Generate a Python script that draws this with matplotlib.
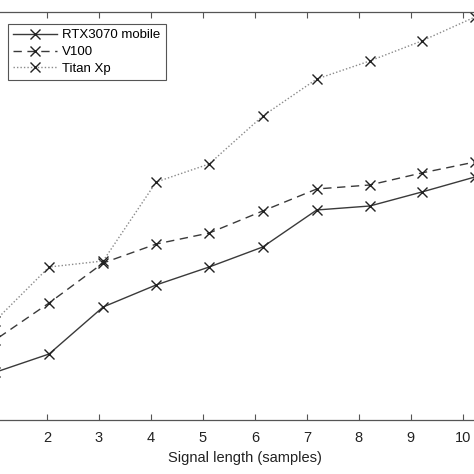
import matplotlib
matplotlib.use("Agg")
import matplotlib.pyplot as plt

plt.rcParams['font.family'] = ['Liberation Sans', 'DejaVu Sans']

# Data
x_vals = [1.0, 2.04, 3.08, 4.1, 5.12, 6.15, 7.19, 8.21, 9.21, 10.23]
rtx3070 = [4.67, 6.47, 11.08, 13.24, 15.0, 16.96, 20.59, 20.98, 22.35, 23.82]
v100 = [7.84, 11.47, 15.39, 17.25, 18.33, 20.49, 22.65, 23.04, 24.22, 25.29]
titan_xp = [9.71, 15.0, 15.59, 23.33, 25.1, 29.8, 33.43, 35.2, 37.16, 39.5]
series_names = ["RTX3070 mobile", "V100", "Titan Xp"]
x_ticks = [2, 3, 4, 5, 6, 7, 8, 9, 10]
x_label = "Signal length (samples)"

W = H = 474
fig = plt.figure(figsize=(4.74, 4.74), dpi=100)
left_px, right_px = -5, 494
top_px, bottom_px = 12, 420
ax = fig.add_axes([left_px / W, (H - bottom_px) / H,
                   (right_px - left_px) / W, (bottom_px - top_px) / H])

lc = "#3a3a3a"
ax.plot(x_vals, rtx3070, color=lc, lw=1.0, ls='-', marker='x', ms=7,
        mew=1.0, mec='#222222', label=series_names[0])
ax.plot(x_vals, v100, color=lc, lw=1.0, ls=(0, (6, 4)), marker='x', ms=7,
        mew=1.0, mec='#222222', label=series_names[1])
ax.plot(x_vals, titan_xp, color='#8a8a8a', lw=1.0, ls=(0, (1, 1.5)), marker='x', ms=7,
        mew=1.0, mec='#222222', label=series_names[2])

ax.set_xlim(1, 10.6)
ax.set_ylim(0, 40)
ax.set_xticks(x_ticks)
ax.set_xticklabels([str(t) for t in x_ticks])
ax.tick_params(axis='x', direction='in', top=True, length=4,
               width=0.8, color='#555555', labelsize=10.5, labelcolor='#222222', pad=8)
ax.tick_params(axis='y', left=False, right=False, labelleft=False)
for s in ax.spines.values():
    s.set_color('#555555')
    s.set_linewidth(0.9)
ax.set_xlabel(x_label, fontsize=10.5, color='#222222', labelpad=4)

leg = ax.legend(loc='upper left', bbox_to_anchor=(0.026, 0.971), borderaxespad=0,
                fancybox=False, framealpha=1, edgecolor='#555555', fontsize=9.5,
                handlelength=3.3, handletextpad=0.4, labelspacing=0.35,
                borderpad=0.4)
leg.get_frame().set_linewidth(0.8)

fig.savefig("out.png", dpi=100)
